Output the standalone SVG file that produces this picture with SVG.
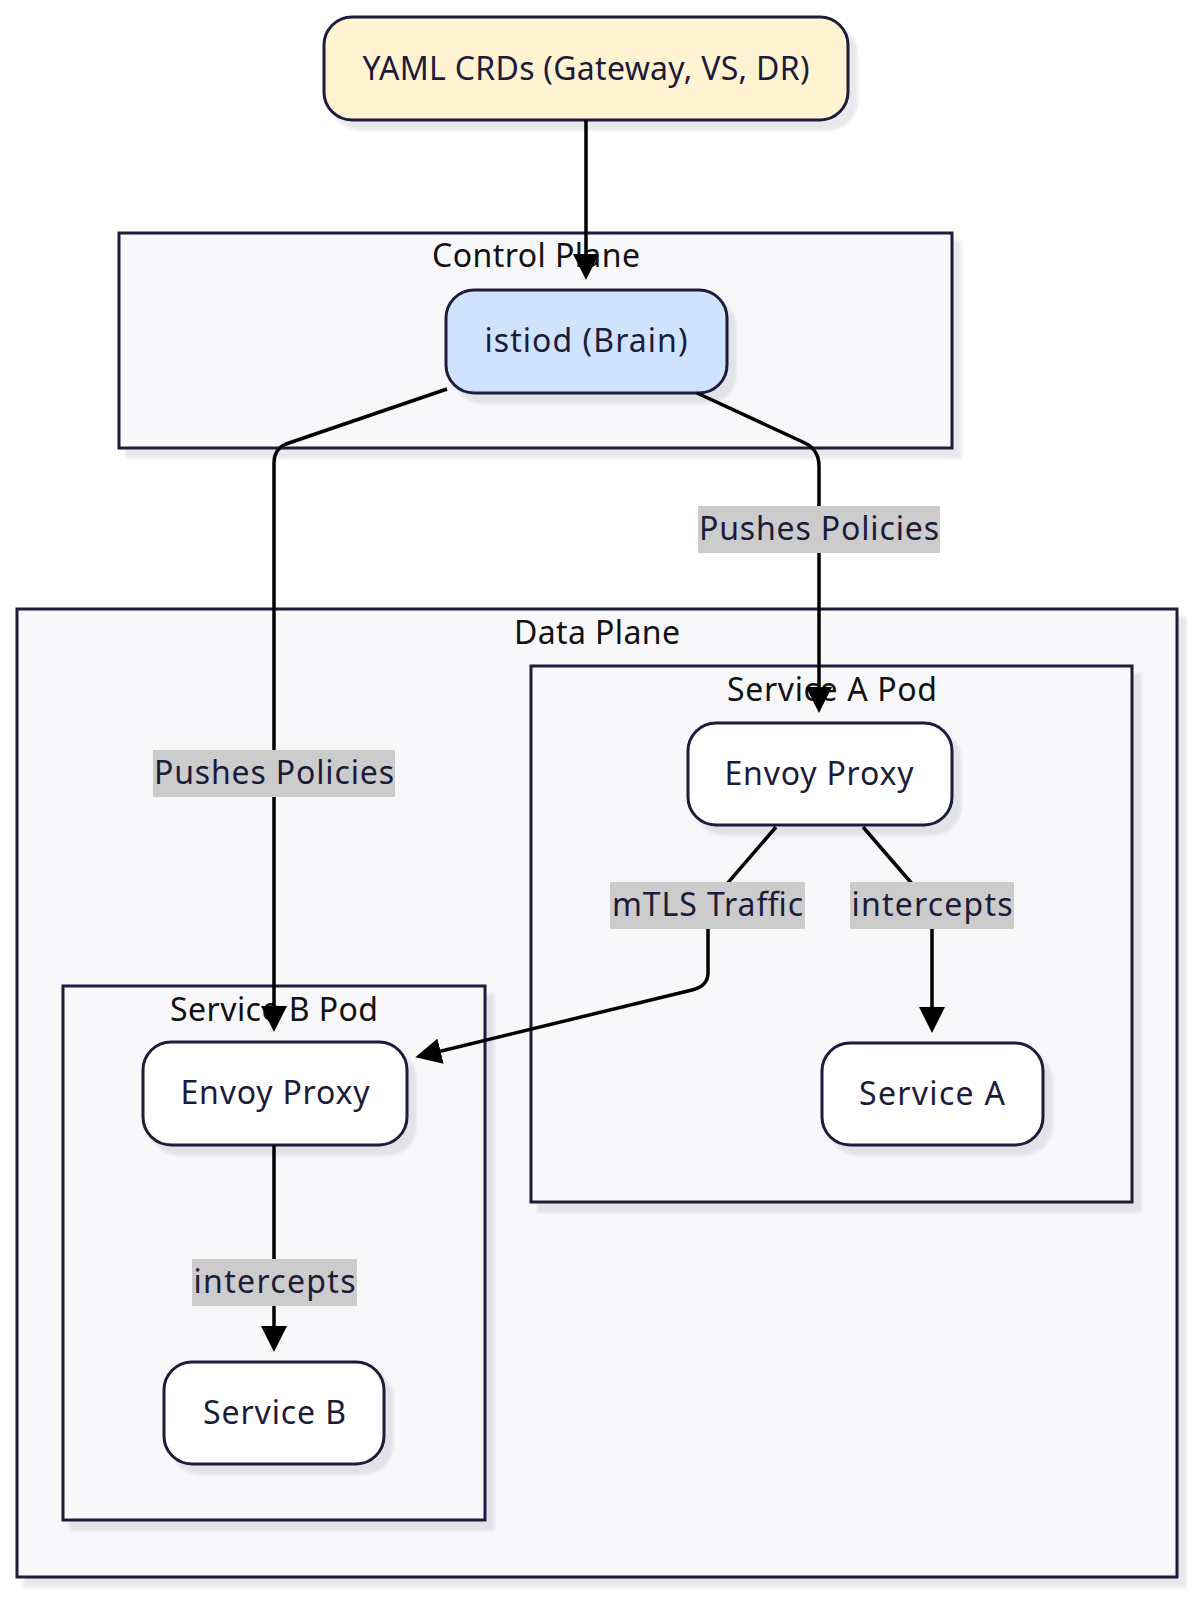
<svg xmlns="http://www.w3.org/2000/svg" width="1199" height="1600" viewBox="0 0 1199 1600">
  <defs>
    <filter id="shadow" x="-10%" y="-10%" width="130%" height="130%">
      <feDropShadow dx="8" dy="9" stdDeviation="1.5" flood-color="#1e1b3a" flood-opacity="0.09"/>
    </filter>
    <marker id="arrow" markerUnits="userSpaceOnUse" markerWidth="26" markerHeight="26" refX="16" refY="13" orient="auto">
      <path d="M0,0 L26,13 L0,26 z" fill="#000"/>
    </marker>
  </defs>
  <style>
    .cluster { fill: #f8f8fa; stroke: #1e1b3a; stroke-width: 3; filter: url(#shadow); }
    .node { fill: #ffffff; stroke: #1e1b3a; stroke-width: 3; filter: url(#shadow); }
    .yaml { fill: #fff3d1; }
    .brain { fill: #cfe3ff; }
    .ctitle { font-family: "Noto Sans", "Liberation Sans", sans-serif; font-size: 32px; fill: #111111; text-anchor: middle; }
    .ntext { font-family: "Noto Sans", "Liberation Sans", sans-serif; font-size: 32px; fill: #1c1b3a; text-anchor: middle; }
    .edge { fill: none; stroke: #000; stroke-width: 3.5; }
    .lblbg { fill: #cccccc; }
    .ltext { font-family: "Noto Sans", "Liberation Sans", sans-serif; font-size: 32px; fill: #1c1b3a; text-anchor: middle; }
  </style>
  <rect width="1199" height="1600" fill="#ffffff"/>

  <!-- clusters -->
  <g id="cluster-control-plane">
    <rect class="cluster" x="119" y="233" width="833" height="215"/>
    <text class="ctitle" x="536" y="267" textLength="208" lengthAdjust="spacing">Control Plane</text>
  </g>
  <g id="cluster-data-plane">
    <rect class="cluster" x="17" y="609" width="1160" height="968"/>
    <text class="ctitle" x="597" y="644" textLength="166" lengthAdjust="spacing">Data Plane</text>
  </g>
  <g id="cluster-service-a-pod">
    <rect class="cluster" x="531" y="666" width="601" height="536"/>
    <text class="ctitle" x="832" y="701" textLength="210" lengthAdjust="spacing">Service A Pod</text>
  </g>
  <g id="cluster-service-b-pod">
    <rect class="cluster" x="63" y="986" width="422" height="534"/>
    <text class="ctitle" x="274" y="1021" textLength="208" lengthAdjust="spacing">Service B Pod</text>
  </g>

  <!-- nodes -->
  <g id="node-yaml">
    <rect class="node yaml" x="324" y="17" width="524" height="103" rx="28"/>
    <text class="ntext" x="586" y="80" textLength="447" lengthAdjust="spacing">YAML CRDs (Gateway, VS, DR)</text>
  </g>
  <g id="node-istiod">
    <rect class="node brain" x="446" y="290" width="281" height="103" rx="28"/>
    <text class="ntext" x="586" y="352" textLength="203" lengthAdjust="spacing">istiod (Brain)</text>
  </g>
  <g id="node-envoy-a">
    <rect class="node" x="688" y="723" width="264" height="102" rx="28"/>
    <text class="ntext" x="819" y="785" textLength="189" lengthAdjust="spacing">Envoy Proxy</text>
  </g>
  <g id="node-service-a">
    <rect class="node" x="822" y="1043" width="221" height="102" rx="28"/>
    <text class="ntext" x="932" y="1105" textLength="146" lengthAdjust="spacing">Service A</text>
  </g>
  <g id="node-envoy-b">
    <rect class="node" x="143" y="1042" width="264" height="103" rx="28"/>
    <text class="ntext" x="275" y="1104" textLength="189" lengthAdjust="spacing">Envoy Proxy</text>
  </g>
  <g id="node-service-b">
    <rect class="node" x="164" y="1362" width="220" height="102" rx="28"/>
    <text class="ntext" x="274.5" y="1424" textLength="143" lengthAdjust="spacing">Service B</text>
  </g>

  <!-- connectors -->
  <g id="connectors">
    <path class="edge" d="M586,120 L586,270" marker-end="url(#arrow)"/>
    <path class="edge" d="M447,389 L286,444 Q274,449 274,463 L274,1022" marker-end="url(#arrow)"/>
    <path class="edge" d="M697,393 L805,443 Q819,450 819,466 L819,703" marker-end="url(#arrow)"/>
    <path class="edge" d="M863,827 L920,893 Q932,907 932,925 L932,1023" marker-end="url(#arrow)"/>
    <path class="edge" d="M776,827 L719,893 Q708,907 708,925 L708,973 Q708,986 692,990 L425,1055" marker-end="url(#arrow)"/>
    <path class="edge" d="M274,1145 L274,1342" marker-end="url(#arrow)"/>

    <g id="label-push-b">
      <rect class="lblbg" x="153" y="750" width="242" height="47"/>
      <text class="ltext" x="274" y="784" textLength="240" lengthAdjust="spacing">Pushes Policies</text>
    </g>
    <g id="label-push-a">
      <rect class="lblbg" x="698" y="506" width="242" height="47"/>
      <text class="ltext" x="819" y="540" textLength="240" lengthAdjust="spacing">Pushes Policies</text>
    </g>
    <g id="label-mtls">
      <rect class="lblbg" x="610" y="882" width="195" height="47"/>
      <text class="ltext" x="707.5" y="916" textLength="191" lengthAdjust="spacing">mTLS Traffic</text>
    </g>
    <g id="label-intercepts-a">
      <rect class="lblbg" x="850" y="882" width="164" height="47"/>
      <text class="ltext" x="932" y="916" textLength="161" lengthAdjust="spacing">intercepts</text>
    </g>
    <g id="label-intercepts-b">
      <rect class="lblbg" x="192" y="1259" width="165" height="47"/>
      <text class="ltext" x="274.5" y="1293" textLength="162" lengthAdjust="spacing">intercepts</text>
    </g>
  </g>
</svg>
